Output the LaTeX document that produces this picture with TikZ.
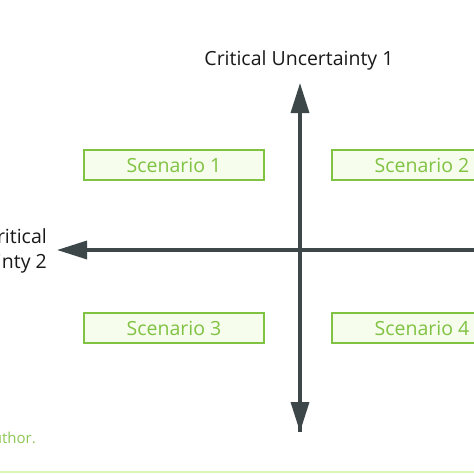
\documentclass[tikz,border=0pt]{standalone}
\usepackage{fontspec}
\setmainfont{Open Sans}
\usetikzlibrary{arrows.meta}
\definecolor{axisgray}{HTML}{3D4749}
\definecolor{scengreen}{HTML}{80C242}
\definecolor{scenfill}{HTML}{F6FDEC}
\definecolor{rulegreen}{HTML}{DAF6B4}
\begin{document}
\begin{tikzpicture}[
 x=1pt,y=-1pt,
 axis/.style={line width=3.4pt,draw=axisgray,-{Triangle[length=30pt,width=18pt]}},
 scenario/.style={draw=scengreen,fill=scenfill,line width=2pt,minimum width=180pt,
   minimum height=30pt,inner sep=0pt,text=scengreen,font=\fontsize{19.5}{22}\selectfont},
 label/.style={font=\fontsize{19.5}{25}\selectfont,text=black!90},
 every node/.style={inner sep=0pt}]
 \clip (0,0) rectangle (474,474);
 \fill[white] (0,0) rectangle (474,474);
 % Axis end points and centre.
 \coordinate (c) at (300,250);
 \coordinate (top) at (300,83); \coordinate (bottom) at (300,432);
 \coordinate (left) at (57,250); \coordinate (right) at (480,250);
 \draw[axis] (bottom)--(top);
 \draw[axis] (c)--(bottom);
 \draw[axis] (right)--(left);
 % Axis labels.
 \node[label,anchor=base] (cu1) at (299,65) {Critical Uncertainty 1};
 \node[label,anchor=base east,align=right] (cu2) at (47,268) {Critical\\Uncertainty 2};
 % Scenario boxes.
 \node[scenario] (s1) at (174,165) {Scenario 1};
 \node[scenario] (s2) at (422,165) {Scenario 2};
 \node[scenario] (s3) at (174,328) {Scenario 3};
 \node[scenario] (s4) at (422,328) {Scenario 4};
 % Source line and bottom rule.
 \node[anchor=base east,text=scengreen!90,font=\fontsize{15}{17}\selectfont] (src) at (36,443) {Source: Author.};
 \draw[rulegreen,line width=2pt] (0,472)--(474,472);
\end{tikzpicture}
\end{document}
